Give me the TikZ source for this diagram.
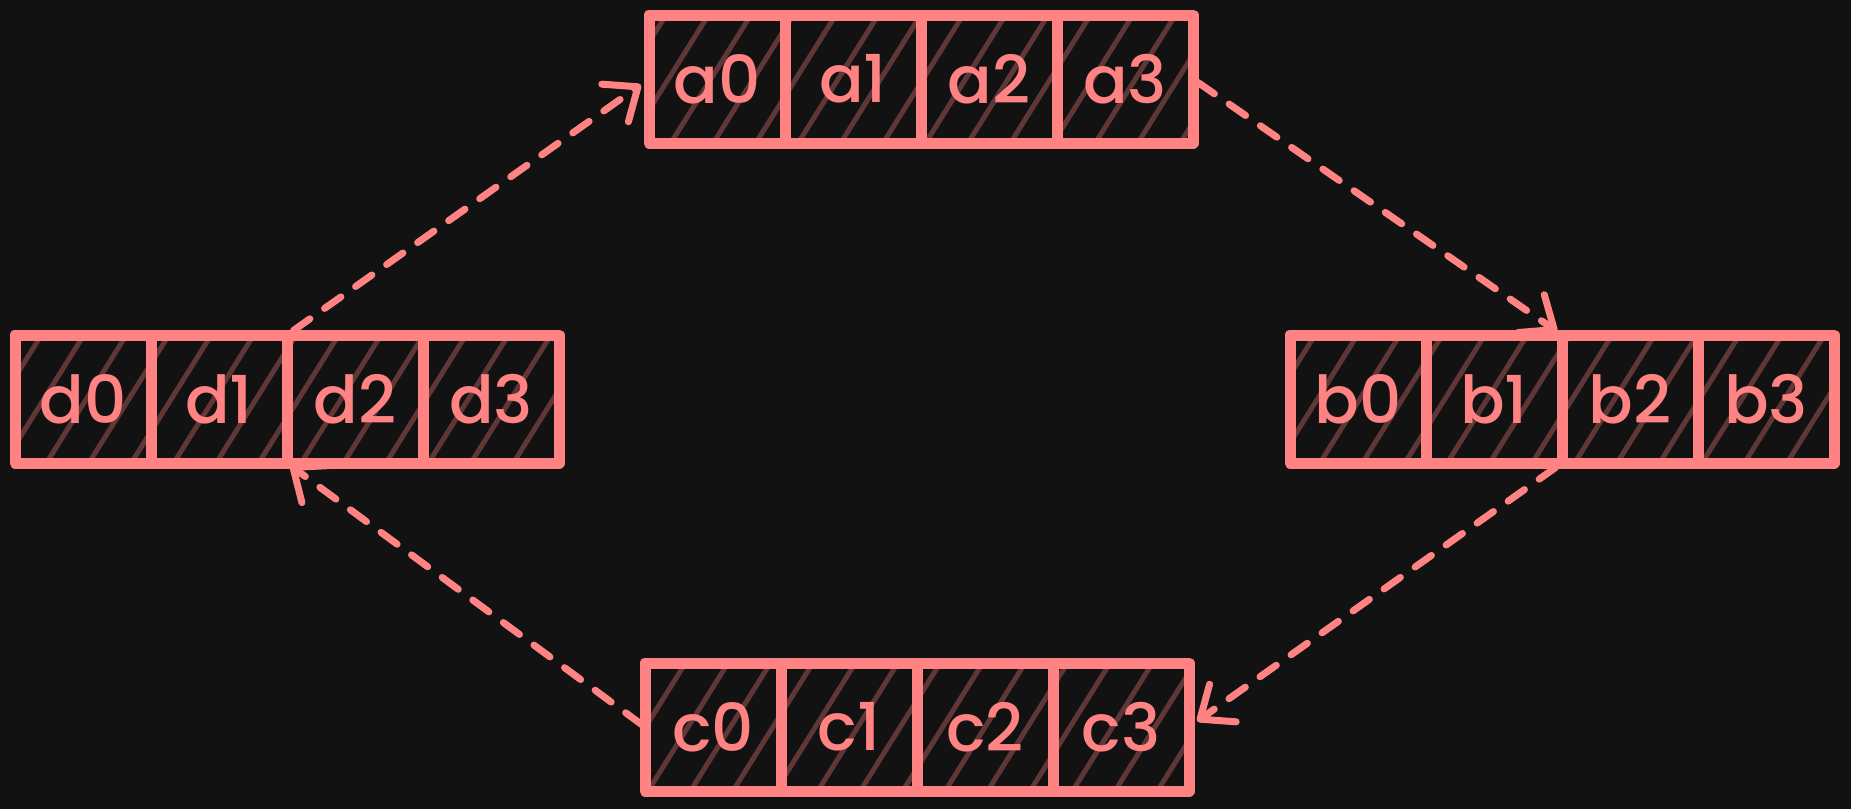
\documentclass[tikz,border=0pt]{standalone}
\usepackage{fontspec}
\setmainfont{Poppins}
\newfontfamily\cellfont{Poppins Medium}
\usetikzlibrary{patterns.meta,arrows.meta,positioning}
\definecolor{bg}{HTML}{121212}
\definecolor{ink}{HTML}{FF8383}
\definecolor{hatch}{HTML}{603636}
\begin{document}
\begin{tikzpicture}[x=1pt,y=-1pt,
  cell/.style={draw=ink, line width=11pt, line join=round, minimum width=136pt, minimum height=128pt,
    inner sep=0pt, outer sep=0pt, text=ink, font=\cellfont\fontsize{66}{72}\selectfont,
    pattern={Lines[angle=58,distance=36pt,line width=5pt]}, pattern color=hatch, anchor=north west},
  link/.style={draw=ink, line width=7pt, line cap=round, dash pattern=on 20pt off 18pt,
    -{Straight Barb[length=28pt,width=46pt,line width=7pt,round]}}]
\fill[bg] (0,0) rectangle (1851,809);
\useasboundingbox (0,0) rectangle (1851,809);
% row a
\node[cell] (a0) at (649,15) {a0};
\node[cell, right=0pt of a0] (a1) {a1};
\node[cell, right=0pt of a1] (a2) {a2};
\node[cell, right=0pt of a2] (a3) {a3};
% row d
\node[cell] (d0) at (15,335) {d0};
\node[cell, right=0pt of d0] (d1) {d1};
\node[cell, right=0pt of d1] (d2) {d2};
\node[cell, right=0pt of d2] (d3) {d3};
% row b
\node[cell] (b0) at (1290,335) {b0};
\node[cell, right=0pt of b0] (b1) {b1};
\node[cell, right=0pt of b1] (b2) {b2};
\node[cell, right=0pt of b2] (b3) {b3};
% row c
\node[cell] (c0) at (645,663) {c0};
\node[cell, right=0pt of c0] (c1) {c1};
\node[cell, right=0pt of c1] (c2) {c2};
\node[cell, right=0pt of c2] (c3) {c3};
% connectors
\draw[link, shorten <=8pt, shorten >=10pt] (d1.north east) -- (a0.west);
\draw[link, shorten <=6pt, shorten >=6pt] (a3.east) -- (b2.north west);
\draw[link, shorten <=8pt, shorten >=10pt] (b2.south west) -- (c3.east);
\draw[link, shorten <=4pt, shorten >=4pt] (c0.west) -- (d1.south east);
\end{tikzpicture}
\end{document}
